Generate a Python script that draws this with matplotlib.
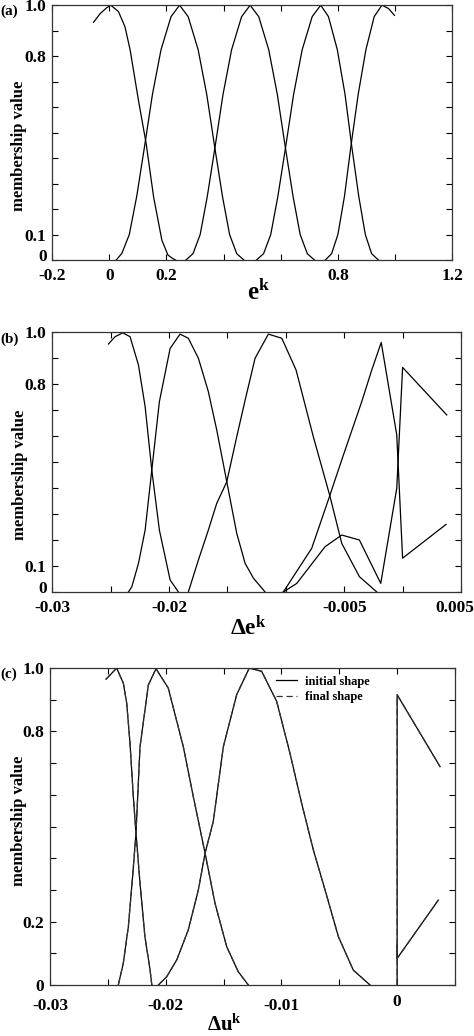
import numpy as np
import matplotlib
matplotlib.use('Agg')
import matplotlib.pyplot as plt
import matplotlib.transforms as mtransforms
from matplotlib.ticker import MultipleLocator, FixedLocator, FixedFormatter

plt.rcParams['font.family'] = ['Liberation Serif', 'DejaVu Serif']
plt.rcParams['font.weight'] = 'bold'
plt.rcParams['mathtext.fontset'] = 'custom'
plt.rcParams['mathtext.rm'] = 'Liberation Serif:bold'
plt.rcParams['mathtext.bf'] = 'Liberation Serif:bold'
plt.rcParams['mathtext.it'] = 'Liberation Serif:bold'

# ---- panel (a): e^k membership functions ----
a_x1 = [-0.055, -0.032, -0.009, 0.005, 0.032, 0.055, 0.073, 0.102, 0.129, 0.155, 0.184, 0.205, 0.219, 0.232]
a_y1 = [0.933, 0.967, 0.990, 1.0, 0.975, 0.915, 0.824, 0.627, 0.457, 0.248, 0.078, 0.02, 0.008, 0.0]
a_x2 = [0.024, 0.044, 0.07, 0.096, 0.124, 0.151, 0.181, 0.216, 0.246, 0.276, 0.311, 0.341, 0.368, 0.396, 0.421, 0.446, 0.471]
a_y2 = [0.0, 0.026, 0.10, 0.25, 0.45, 0.65, 0.825, 0.955, 1.0, 0.955, 0.825, 0.65, 0.45, 0.25, 0.10, 0.025, 0.0]
a_x3 = [0.268, 0.293, 0.318, 0.343, 0.371, 0.398, 0.428, 0.463, 0.493, 0.523, 0.558, 0.588, 0.615, 0.643, 0.668, 0.693, 0.718]
a_y3 = [0.0, 0.025, 0.10, 0.25, 0.45, 0.65, 0.825, 0.955, 1.0, 0.955, 0.825, 0.65, 0.45, 0.25, 0.10, 0.025, 0.0]
a_x4 = [0.515, 0.54, 0.565, 0.59, 0.618, 0.645, 0.675, 0.71, 0.74, 0.767, 0.798, 0.825, 0.848, 0.873, 0.896, 0.918, 0.942]
a_y4 = [0.0, 0.025, 0.10, 0.25, 0.45, 0.65, 0.825, 0.955, 1.0, 0.955, 0.825, 0.65, 0.45, 0.25, 0.10, 0.025, 0.0]
a_x5 = [0.756, 0.778, 0.80, 0.823, 0.846, 0.871, 0.898, 0.927, 0.954, 0.977, 0.998]
a_y5 = [0.0, 0.025, 0.10, 0.25, 0.45, 0.65, 0.825, 0.955, 1.0, 0.987, 0.96]

# ---- panel (b): delta e^k membership functions ----
b_x1 = [-0.02518, -0.02461, -0.02395, -0.02333, -0.02261, -0.02204, -0.02147, -0.02082, -0.01990, -0.01919]
b_y1 = [0.954, 0.982, 0.997, 0.982, 0.873, 0.713, 0.469, 0.238, 0.046, 0.0]
b_x2 = [-0.02347, -0.02318, -0.02261, -0.02204, -0.02147, -0.02082, -0.0199, -0.01905, -0.01834,
        -0.01748, -0.01663, -0.01591, -0.01505, -0.01420, -0.01348, -0.01277, -0.01177]
b_y2 = [0.0, 0.02, 0.11, 0.238, 0.469, 0.732, 0.937, 0.992, 0.976, 0.899, 0.771, 0.623, 0.424, 0.226, 0.11, 0.053, 0.0]
b_x3 = [-0.01834, -0.01748, -0.01663, -0.01591, -0.01505, -0.0142, -0.01348, -0.01263, -0.01149, -0.01034,
        -0.00912, -0.00764, -0.00621, -0.00521, -0.0037, -0.00221]
b_y3 = [0.0, 0.123, 0.238, 0.341, 0.424, 0.597, 0.738, 0.899, 0.992, 0.976, 0.854, 0.597, 0.367, 0.187, 0.059, 0.0]
b_x4 = [-0.01021, -0.00778, -0.00636, -0.00521, -0.0035, -0.00264, -0.00183, -0.0005, 0.0, 0.00372]
b_y4 = [0.0, 0.168, 0.354, 0.508, 0.732, 0.854, 0.96, 0.604, 0.13, 0.26]
b_x5 = [-0.01021, -0.00906, -0.00664, -0.00521, -0.0037, -0.00187, -0.0005, 0.0, 0.00378]
b_y5 = [0.0, 0.033, 0.174, 0.219, 0.2, 0.033, 0.399, 0.864, 0.681]

# ---- panel (c): delta u^k, initial and final shapes ----
c_x1 = [-0.02516, -0.02424, -0.02366, -0.02337, -0.02309, -0.0228, -0.02257, -0.02222, -0.0218, -0.02136, -0.0212]
c_y1 = [0.965, 1.0, 0.952, 0.889, 0.765, 0.595, 0.479, 0.321, 0.153, 0.05, 0.0]
c_x2 = [-0.0241, -0.02367, -0.02323, -0.02286, -0.02257, -0.02222, -0.0215, -0.02084, -0.01978, -0.01848,
        -0.01762, -0.0166, -0.01574, -0.01473, -0.01373, -0.01286]
c_y2 = [0.0, 0.068, 0.184, 0.343, 0.479, 0.752, 0.947, 0.998, 0.937, 0.752, 0.595, 0.416, 0.258, 0.121, 0.042, 0.0]
c_x3 = [-0.02064, -0.01992, -0.01905, -0.01805, -0.01718, -0.0166, -0.01589, -0.01502, -0.01387, -0.01278,
        -0.01171, -0.01041, -0.00926, -0.00825, -0.00724, -0.00623, -0.00508, -0.00379, -0.00234]
c_y3 = [0.0, 0.026, 0.079, 0.174, 0.30, 0.416, 0.516, 0.752, 0.916, 1.0, 0.99, 0.895, 0.731, 0.573, 0.426,
        0.30, 0.153, 0.047, 0.0]
c_x4 = [0.0, 0.0, 0.00371]
c_y4 = [0.0, 0.916, 0.689]
c_x5 = [0.0, 0.0, 0.00356]
c_y5 = [0.125, 0.084, 0.268]

LW = 0.9
TICK_FS = 12.5


def style_axis(ax, xmaj, xlab, xminor, ymaj, ylab, xlim, xpad=5):
    ax.set_xlim(*xlim)
    ax.set_ylim(0, 1.0)
    ax.xaxis.set_major_locator(FixedLocator(xmaj))
    ax.xaxis.set_major_formatter(FixedFormatter(xlab))
    ax.xaxis.set_minor_locator(MultipleLocator(xminor))
    ax.yaxis.set_major_locator(FixedLocator(ymaj))
    ax.yaxis.set_major_formatter(FixedFormatter(ylab))
    ax.yaxis.set_minor_locator(MultipleLocator(0.1))
    ax.tick_params(which='both', direction='in', top=True, right=True,
                   length=4, width=0.8, labelsize=TICK_FS)
    ax.tick_params(axis='x', pad=xpad)
    ax.tick_params(axis='y', pad=4)
    for s in ax.spines.values():
        s.set_linewidth(0.9)
        s.set_color('#333333')
    ax.set_ylabel('membership value', fontsize=12, fontweight='bold')


def nudge(label, dx, dy):
    # shift a tick label by a few pixels
    label.set_transform(label.get_transform() +
                        mtransforms.ScaledTranslation(dx / 100, dy / 100, fig.dpi_scale_trans))


fig = plt.figure(figsize=(4.74, 10.36), dpi=100)

# panel (a)
ax1 = fig.add_axes([0.110, 0.749, 0.844, 0.246])
for xs, ys in [(a_x1, a_y1), (a_x2, a_y2), (a_x3, a_y3), (a_x4, a_y4), (a_x5, a_y5)]:
    ax1.plot(xs, ys, color='black', lw=LW)
style_axis(ax1, [-0.2, 0, 0.2, 0.8, 1.2], ['-0.2', '0', '0.2', '0.8', '1.2'], 0.2,
           [0, 0.1, 0.8, 1.0], ['0', '0.1', '0.8', '1.0'], (-0.2, 1.2), xpad=6)
ax1.set_xlabel(r'$\mathbf{e^{k}}$', fontsize=18)
ax1.xaxis.set_label_coords(0.515, -0.075)
ax1.yaxis.set_label_coords(-0.062, 0.447)

# panel (b)
ax2 = fig.add_axes([0.110, 0.4286, 0.8626, 0.2509])
for xs, ys in [(b_x1, b_y1), (b_x2, b_y2), (b_x3, b_y3), (b_x4, b_y4), (b_x5, b_y5)]:
    ax2.plot(xs, ys, color='black', lw=LW)
style_axis(ax2, [-0.03, -0.02, -0.005, 0.005], ['-0.03', '-0.02', '-0.005', '0.005'], 0.005,
           [0, 0.1, 0.8, 1.0], ['0', '0.1', '0.8', '1.0'], (-0.03, 0.005), xpad=6)
ax2.set_xlabel(r'$\mathbf{\Delta e^{k}}$', fontsize=17)
ax2.xaxis.set_label_coords(0.48, -0.09)
ax2.yaxis.set_label_coords(-0.06, 0.45)

# panel (c)
ax3 = fig.add_axes([0.1055, 0.0492, 0.8544, 0.3059])
curves_c = [(c_x1, c_y1), (c_x2, c_y2), (c_x3, c_y3), (c_x4, c_y4), (c_x5, c_y5)]
for i, (xs, ys) in enumerate(curves_c):
    ax3.plot(xs, ys, color='black', lw=LW, label='initial shape' if i == 0 else None)
for i, (xs, ys) in enumerate(curves_c):
    ax3.plot(xs, ys, color='#333333', lw=LW, ls=(0, (5, 3)), label='final shape' if i == 0 else None)
style_axis(ax3, [-0.03, -0.02, -0.01, 0], ['-0.03', '-0.02', '-0.01', '0'], 0.005,
           [0, 0.2, 0.8, 1.0], ['0', '0.2', '0.8', '1.0'], (-0.03, 0.005), xpad=9)
ax3.set_xlabel(r'$\mathbf{\Delta u^{k}}$', fontsize=15)
ax3.xaxis.set_label_coords(0.43, -0.093)
ax3.yaxis.set_label_coords(-0.058, 0.518)
ax3.legend(loc='upper left', bbox_to_anchor=(0.54, 1.0), frameon=False,
           prop={'family': 'Liberation Serif', 'weight': 'bold', 'size': 9},
           handlelength=1.7, handletextpad=0.6, labelspacing=0.3, borderaxespad=0.2)

# small label shifts seen in the reference
nudge(ax1.get_yticklabels()[0], 0, 5)
nudge(ax2.get_yticklabels()[0], 0, 5)
nudge(ax2.get_xticklabels()[-1], -6, 0)
nudge(ax3.get_xticklabels()[-1], 0, 4)

fig.text(0.0, 0.9952, '(a)', fontsize=11, fontweight='bold', va='top', ha='left')
fig.text(0.0, 0.6795, '(b)', fontsize=11, fontweight='bold', va='top', ha='left')
fig.text(0.0, 0.3555, '(c)', fontsize=11, fontweight='bold', va='top', ha='left')

fig.savefig('out.png', dpi=100)
